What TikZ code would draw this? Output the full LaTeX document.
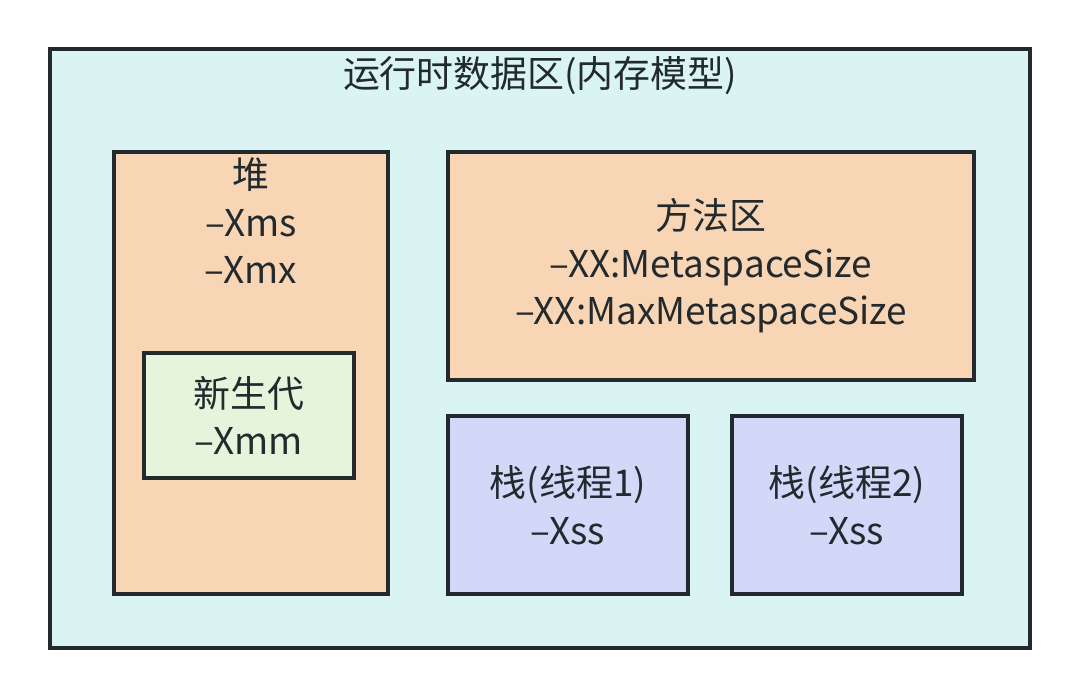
\documentclass[tikz,border=0pt]{standalone}
\usepackage{fontspec}
\setmainfont{Noto Sans CJK SC}
\definecolor{areabg}{HTML}{DAF4F4}
\definecolor{heapbg}{HTML}{F8D5B5}
\definecolor{youngbg}{HTML}{E5F5DC}
\definecolor{stackbg}{HTML}{D4D8F8}
\definecolor{edge}{HTML}{222A2E}
\tikzset{
  box/.style={draw=edge, line width=1pt, inner sep=0pt, align=center,
    font=\fontsize{10.5}{13.5}\selectfont, text=edge},
  lbl/.style={align=center, font=\fontsize{10.5}{13.5}\selectfont, text=edge}
}
\begin{document}
\begin{tikzpicture}
    \useasboundingbox (0,0) rectangle (10.8,6.98);

    \node[box, fill=areabg, minimum width=9.80cm, minimum height=5.99cm] (area) at (5.40,3.495) {};
    \node[lbl] (areatext) at (5.40,6.22) {运行时数据区(内存模型)};

    \node[box, fill=heapbg, minimum width=2.74cm, minimum height=4.42cm] (heap) at (2.51,3.25) {};
    \node[lbl] (heaptext) at (2.51,4.77) {堆\\–Xms\\–Xmx};

    \node[box, fill=youngbg, minimum width=2.10cm, minimum height=1.25cm] (young) at (2.49,2.825) {新生代\\–Xmm};

    \node[box, fill=heapbg, minimum width=5.26cm, minimum height=2.28cm] (method) at (7.11,4.32) {方法区\\–XX:MetaspaceSize\\–XX:MaxMetaspaceSize};

    \node[box, fill=stackbg, minimum width=2.40cm, minimum height=1.78cm] (stack1) at (5.68,1.93) {栈(线程1)\\–Xss};
    \node[box, fill=stackbg, minimum width=2.30cm, minimum height=1.78cm] (stack2) at (8.47,1.93) {栈(线程2)\\–Xss};
\end{tikzpicture}
\end{document}
